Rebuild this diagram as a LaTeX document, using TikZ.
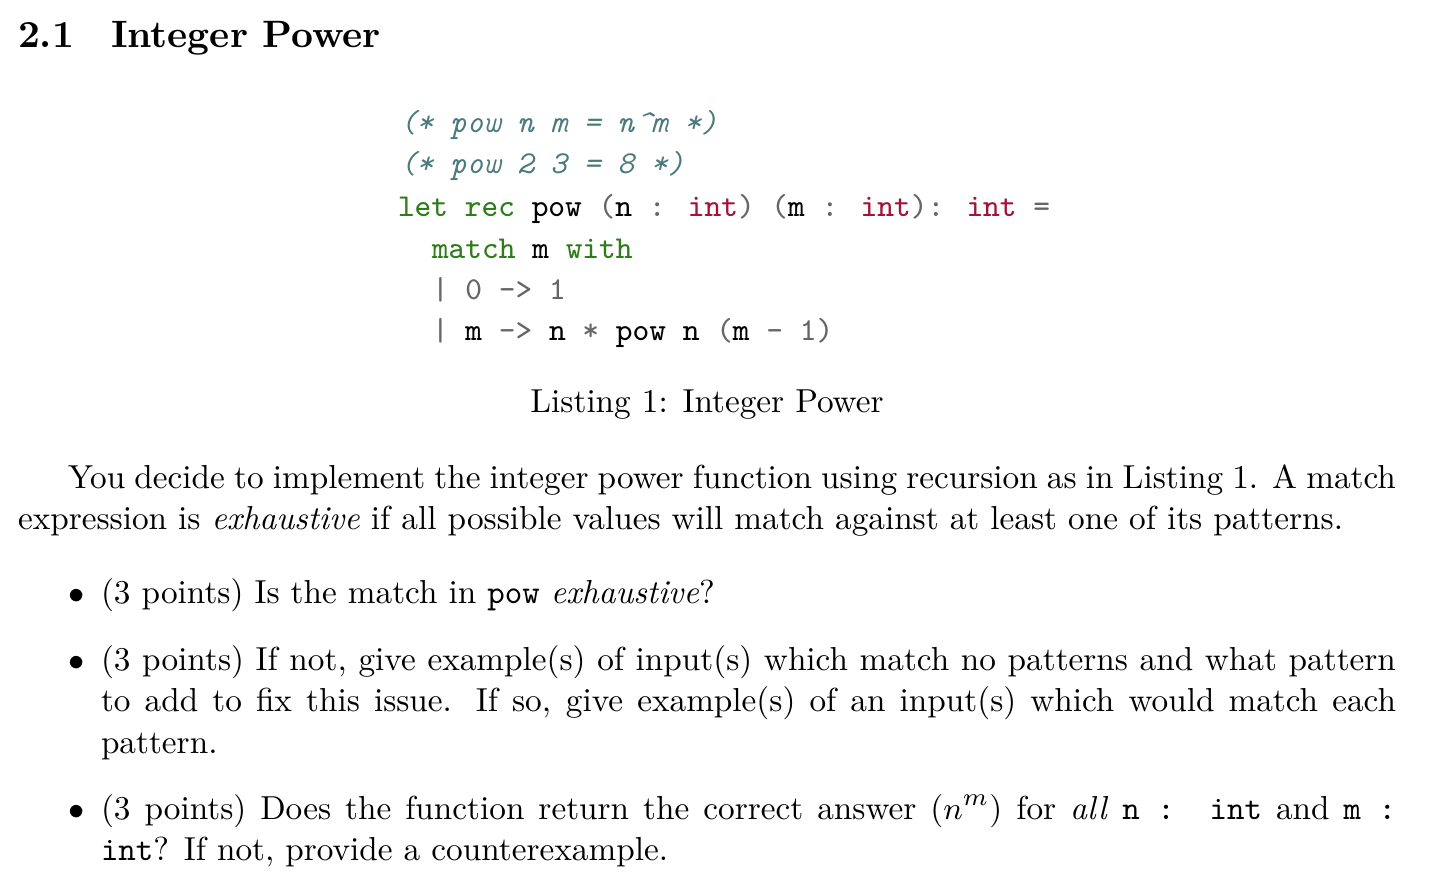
\documentclass[tikz,border=0pt]{standalone}
\usepackage{xcolor}
\definecolor{cmt}{HTML}{4A7A7A}
\definecolor{kw}{HTML}{2E7D1A}
\definecolor{ty}{HTML}{A0143C}
\definecolor{gr}{HTML}{666666}
\newcommand{\K}[1]{\textcolor{kw}{#1}}
\newcommand{\T}[1]{\textcolor{ty}{#1}}
\newcommand{\G}[1]{\textcolor{gr}{#1}}
\begin{document}
\begin{tikzpicture}[x={(0.285714pt,0)},y={(0,-0.285714pt)},
  txt/.style={anchor=base west,inner sep=0pt,outer sep=0pt,font=\fontsize{9.5}{11.9}\selectfont},
  code/.style={txt,font=\fontsize{9.1}{11}\ttfamily}]
\useasboundingbox (0,0) rectangle (1432,890);
\node[txt,font=\fontsize{10.9}{13}\bfseries] (n21) at (18,48) {2.1};
\node[txt,font=\fontsize{10.9}{13}\bfseries] (sec) at (111,48) {Integer Power};
\node[code,text=cmt] (c1) at (400,133) {\itshape(* pow n m = n\^{}m *)};
\node[code,text=cmt] (c2) at (400,174) {\itshape(* pow 2 3 = 8 *)};
\node[code] (c3) at (398,216) {\K{let} \K{rec} pow \G{(}n \G{:} \T{int}\G{)} \G{(}m \G{:} \T{int}\G{):} \T{int} \G{=}};
\node[code] (c4) at (432,258) {\K{match} m \K{with}};
\node[code] (c5) at (432,299) {\G{| 0 -> 1}};
\node[code] (c6) at (432,340) {\G{|} m \G{->} n \G{*} pow n \G{(}m \G{-} \G{1)}};
\node[txt,anchor=base] (cap) at (707,412) {Listing 1: Integer Power};
\node[txt] (para) at (18,488) {\parbox[t]{393.7pt}{\parindent=14.3pt\indent You decide to implement the integer power function using recursion as in Listing 1. A match expression is \emph{exhaustive} if all possible values will match against at least one of its patterns.}};
\node[txt] (b1) at (68,603) {$\bullet$};
\node[txt] (i1) at (101,603) {(3 points) Is the match in \texttt{pow} \emph{exhaustive}?};
\node[txt] (b2) at (68,670) {$\bullet$};
\node[txt] (i2) at (101,670) {\parbox[t]{370pt}{(3 points) If not, give example(s) of input(s) which match no patterns and what pattern to add to fix this issue. If so, give example(s) of an input(s) which would match each pattern.}};
\node[txt] (b3) at (68,819) {$\bullet$};
\node[txt] (i3) at (101,819) {\parbox[t]{370pt}{(3 points) Does the function return the correct answer ($n^m$) for \emph{all} \texttt{n :\ \ int} and \texttt{m :}\linebreak\texttt{int}? If not, provide a counterexample.}};
\end{tikzpicture}
\end{document}
